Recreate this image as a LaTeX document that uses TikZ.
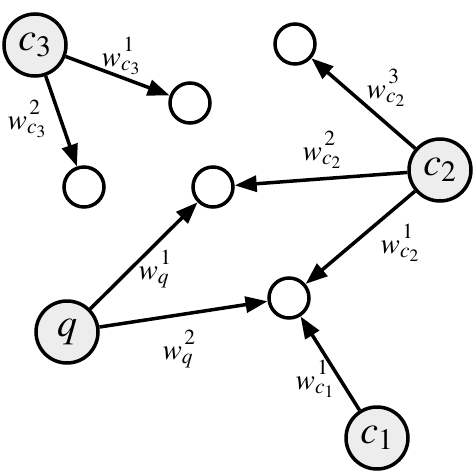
\documentclass[tikz,border=0pt]{standalone}
\usepackage{mathptmx}
\usetikzlibrary{arrows.meta,positioning}

\newcommand{\wgt}[2]{$w^{\,#1\mathstrut}_{#2}$}

\begin{document}
\begin{tikzpicture}[x=1pt,y=-1pt,
    bignode/.style={circle,draw,line width=3.5pt,fill=black!7,minimum size=62pt,inner sep=0pt,font=\fontsize{40}{44}\selectfont},
    smallnode/.style={circle,draw,line width=3.5pt,fill=white,minimum size=40pt,inner sep=0pt},
    wlabel/.style={font=\fontsize{29}{32}\selectfont},
    link/.style={-{Triangle[length=22pt,width=16pt]},line width=3.5pt}]
        \useasboundingbox (0,0) rectangle (474,474);

        \node[bignode] (c3) at (35,45) {$c_3$};
        \node[bignode] (c2) at (440,170) {$c_2$};
        \node[bignode] (q) at (67,332) {$q$};
        \node[bignode] (c1) at (377,438) {$c_1$};

        \node[smallnode] (n1) at (190,103) {};
        \node[smallnode] (n2) at (84,187) {};
        \node[smallnode] (n3) at (295,44) {};
        \node[smallnode] (n4) at (213,187) {};
        \node[smallnode] (n5) at (289,298) {};

        \draw[link] (c3) -- (n1);
        \draw[link] (c3) -- (n2);
        \draw[link] (c2) -- (n3);
        \draw[link] (c2) -- (n4);
        \draw[link] (c2) -- (n5);
        \draw[link] (q) -- (n4);
        \draw[link] (q) -- (n5);
        \draw[link] (c1) -- (n5);

        \node[wlabel] (lc3a) at (121,55) {\wgt{1}{c_3}};
        \node[wlabel] (lc3b) at (27,118) {\wgt{2}{c_3}};
        \node[wlabel] (lc2c) at (386,87) {\wgt{3}{c_2}};
        \node[wlabel] (lc2b) at (322,149) {\wgt{2}{c_2}};
        \node[wlabel] (lc2a) at (400,242) {\wgt{1}{c_2}};
        \node[wlabel] (lqa) at (155,268) {\wgt{1}{q}};
        \node[wlabel] (lqb) at (179,348) {\wgt{2}{q}};
        \node[wlabel] (lc1) at (315,378) {\wgt{1}{c_1}};
    \end{tikzpicture}
\end{document}
